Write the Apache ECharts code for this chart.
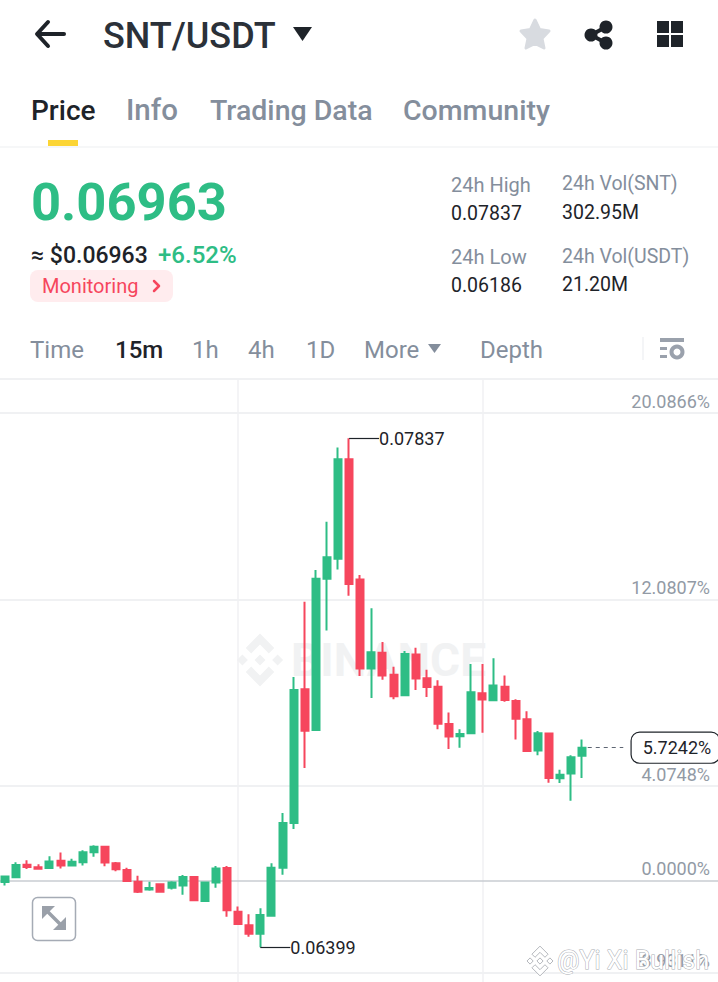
<!DOCTYPE html>
<html>
<head>
<meta charset="utf-8">
<style>html,body{margin:0;padding:0;background:#fff;overflow:hidden}#c{width:718px;height:982px}</style>
<script src="https://cdn.jsdelivr.net/npm/echarts@6/dist/echarts.min.js"></script>
</head>
<body>
<div id="c"></div>
<script>
// Percent change values, one entry per 15m candle.
const opens = [-0.04,0.16,0.70,0.59,0.56,0.87,0.66,0.80,1.23,1.47,0.76,0.47,-0.03,-0.37,-0.14,-0.29,-0.19,0.17,-0.86,-0.07,0.56,-1.32,-1.90,-2.26,-1.49,0.57,2.49,8.23,6.48,12.98,13.84,18.11,12.94,9.12,9.80,8.85,7.97,9.73,8.70,8.34,6.74,6.21,6.34,8.06,7.76,8.34,7.73,6.94,5.60,6.33,4.41,4.61,5.38];
const closes = [0.19,0.69,0.60,0.53,0.84,0.67,0.83,1.23,1.47,0.79,0.50,0,-0.46,-0.30,-0.46,-0.06,0.17,-0.83,-0.07,0.54,-1.26,-1.85,-2.26,-1.46,0.57,2.49,8.20,6.45,12.98,13.90,18.11,12.75,9.12,9.82,8.82,7.93,9.75,8.69,8.33,6.75,6.20,6.31,8.10,7.79,8.39,7.77,6.97,5.58,6.34,4.42,4.56,5.31,5.72];
const lows = [-0.19,0.16,0.52,0.50,0.53,0.54,0.64,0.66,1.04,0.63,0.42,-0.01,-0.52,-0.42,-0.46,-0.36,-0.59,-0.84,-0.86,-0.29,-1.53,-1.87,-2.39,-2.85,-1.53,0.27,2.23,4.85,6.45,10.75,13.37,12.25,8.80,7.86,8.64,7.80,7.96,8.20,7.90,6.51,5.67,5.72,6.34,6.37,7.76,7.70,6.07,5.58,5.40,4.22,4.21,3.44,4.42];
const highs = [0.19,0.80,0.89,0.72,1.06,1.22,0.96,1.32,1.53,1.47,0.82,0.57,0.23,-0.03,-0.10,-0.01,0.26,0.19,-0.04,0.64,0.64,-1.09,-1.43,-1.17,0.76,2.92,8.76,11.99,13.35,15.43,18.61,19.01,13.14,11.71,10.26,9.20,9.88,10.01,9.07,8.62,7.23,6.51,9.32,9.32,9.56,8.82,7.80,7.29,6.44,6.33,4.78,5.40,6.08];
const slotCount = 65;
const categories = Array.from({length: slotCount}, (_, i) => 'T' + i);
const tickValues = [-3.9311, 0, 4.0748, 12.0807, 20.0866];
const gridTicks = [-3.9311, 4.0748, 12.0807, 20.0866];
const lastPct = 5.7242;
const highPct = 19.01, highIndex = 31, highLabel = '0.07837';
const lowPct = -2.85, lowIndex = 23, lowLabel = '0.06399';
const vLineSlots = [21, 43];

const FONT = 'Roboto, "Noto Sans", sans-serif';
const DARK = '#1E2329', GREY = '#848E9C', GREEN = '#2EBD85', RED = '#F6465D';
const candles = opens.map((o, i) => [o, closes[i], lows[i], highs[i]]);

function text(x, y, s, size, fill, weight, extra) {
  return Object.assign({type:'text', x, y, z:20, silent:true,
    style:{text:s, fontSize:size, fontFamily:FONT, fontWeight:weight||400, fill:fill, textVerticalAlign:'middle', verticalAlign:'middle'}}, extra||{});
}
function poly(points, fill, z) { return {type:'polygon', z:z==null?20:z, silent:true, shape:{points}, style:{fill}}; }
function rect(x,y,w,h,fill,r,stroke,lw,z){return {type:'rect', z:z==null?20:z, silent:true, shape:{x,y,width:w,height:h,r:r||0}, style:{fill:fill||'none',stroke:stroke||null,lineWidth:lw||0}};}
function line(pts,stroke,lw,z){return {type:'polyline', z:z==null?20:z, silent:true, shape:{points:pts}, style:{stroke,lineWidth:lw,fill:'none',lineCap:'round',lineJoin:'round'}};}
function logo(cx,cy,s,style,z){
  const d=(x,y,r)=>[[cx+x*s,cy+(y-r)*s],[cx+(x+r)*s,cy+y*s],[cx+x*s,cy+(y+r)*s],[cx+(x-r)*s,cy+y*s]];
  const top=[[0,-24],[13,-11],[8,-6],[0,-14],[-8,-6],[-13,-11]].map(p=>[cx+p[0]*s,cy+p[1]*s]);
  const bot=top.map(p=>[p[0],2*cy-p[1]]);
  return [d(0,0,5),d(-16,0,5),d(16,0,5),top,bot].map(pts=>({type:'polygon',z:z,silent:true,shape:{points:pts},style}));
}

const chrome = [
  line([[48,22],[37,34],[48,46]],DARK,4), line([[38,34],[64,34]],DARK,4),
  text(103,36,'SNT/USDT',36,'#2B3139',500),
  poly([[293,27],[312,27],[302.5,41]],DARK),
  {type:'polygon',z:20,silent:true,shape:{points:[[535,20],[539.5,29.5],[549,31],[542,38.5],[544,48],[535,43.5],[526,48],[528,38.5],[521,31],[530.5,29.5]]},style:{fill:'#D8DBE0',stroke:'#D8DBE0',lineWidth:3,lineJoin:'round'}},
  line([[606,27],[591,35],[606,43]],DARK,4),
  {type:'circle',z:20,silent:true,shape:{cx:606,cy:27,r:6.5},style:{fill:DARK}},
  {type:'circle',z:20,silent:true,shape:{cx:591,cy:35,r:6.5},style:{fill:DARK}},
  {type:'circle',z:20,silent:true,shape:{cx:606,cy:43,r:6.5},style:{fill:DARK}},
  rect(657,21,12,12,DARK), rect(671,21,12,12,DARK), rect(657,35,12,12,DARK), rect(671,35,12,12,DARK),
  text(31,110,'Price',28,DARK,500), text(126,110,'Info',29.5,GREY,500),
  text(210,110,'Trading Data',28.5,GREY,500), text(403,110,'Community',28.5,GREY,500),
  rect(48,140,30,6,'#FCD535'), rect(0,146.5,718,1,'#EEEFF1'),
  text(31,202,'0.06963',52.5,GREEN,700),
  text(31,255,'≈ $0.06963',23,DARK,500), text(158,255,'+6.52%',24,GREEN,500),
  rect(30,270,143,32,'#FFECEE',8),
  text(42,286,'Monitoring',20,RED,400),
  line([[154,281],[159,286],[154,291]],RED,2.5),
  text(451,185,'24h High',20,GREY), text(451,213,'0.07837',19.5,DARK),
  text(562,183,'24h Vol(SNT)',19.5,GREY), text(562,212,'302.95M',19.5,DARK),
  text(451,257,'24h Low',20,GREY), text(451,285,'0.06186',19.5,DARK),
  text(562,256,'24h Vol(USDT)',19.5,GREY), text(562,284,'21.20M',19.5,DARK),
  text(30,350,'Time',24,GREY), text(115,350,'15m',24,DARK,500), text(192,350,'1h',24,GREY),
  text(248,350,'4h',24,GREY), text(306,350,'1D',24,GREY), text(364,350,'More',24,GREY),
  poly([[428,344],[441,344],[434.5,353]],GREY),
  text(480,350,'Depth',24,GREY),
  rect(642.5,337,1,23,'#EAECEF'),
  rect(660,338,24,4,'#9AA1AC'), rect(660,347,7,3,'#9AA1AC'), rect(660,355,7,3,'#9AA1AC'),
  {type:'circle',z:20,silent:true,shape:{cx:677,cy:352,r:5.5},style:{fill:'none',stroke:'#9AA1AC',lineWidth:4}},
  rect(0,378,718,2,'#F0F1F3'),
  rect(32.5,897.5,43,43,'#fff',5,'#A5ABB5',1.5),
  line([[46,910],[62,926]],'#9AA0A9',3.5),
  poly([[42,906],[55,906],[42,919]],'#9AA0A9'), poly([[66,930],[53,930],[66,917]],'#9AA0A9'),
  text(291,660,'BINANCE',46,'#F1F2F3',700,{z:0}),
  ...logo(260,660,1.1,{fill:'#F1F2F3'},0),
  ...logo(540,961,0.62,{fill:'#fff',stroke:'#B5B8BD',lineWidth:1},25),
  {type:'text',x:557,y:960,z:25,silent:true,style:{text:'@Yi Xi Bullish',fontSize:25,fontFamily:FONT,fill:'#fff',stroke:'#A8ACB2',lineWidth:1,verticalAlign:'middle'}}
];

const chart = echarts.init(document.getElementById('c'), null, {renderer:'svg', width:718, height:982});
chart.setOption({
  animation:false,
  backgroundColor:'#fff',
  grid:{left:-0.55, top:380, width:721.5, height:602, containLabel:false, outerBoundsMode:'none'},
  xAxis:[
    {type:'category', data:categories, boundaryGap:true, axisLine:{show:false}, axisTick:{show:false}, axisLabel:{show:false}, splitLine:{show:false}},
    {type:'value', min:-0.5, max:slotCount-0.5, show:false, splitLine:{show:false}}
  ],
  yAxis:{type:'value', position:'right', min:-4.337, max:21.511, scale:true,
    axisLine:{show:false},
    axisTick:{show:false, customValues:gridTicks},
    splitLine:{show:true, lineStyle:{color:'#F0F1F3', width:2}},
    axisLabel:{inside:true, margin:11, color:'#929AA5', fontSize:18, fontFamily:FONT, verticalAlign:'bottom', padding:[0,0,3,0],
      customValues:tickValues, formatter:v=>v.toFixed(4)+'%'}
  },
  series:[
    {type:'line', name:'back', xAxisIndex:1, data:[], z:1, silent:true,
      markLine:{silent:true, symbol:'none', label:{show:false}, animation:false, z:1,
        data:[
          ...vLineSlots.map(v=>({xAxis:v, lineStyle:{color:'#F0F1F3', width:1.5, type:'solid'}})),
          {yAxis:0, lineStyle:{color:'#C9CCD2', width:1.5, type:'solid'}}
        ]}},
    {type:'candlestick', name:'SNT/USDT', data:candles, barWidth:7.5, z:3, silent:true,
      itemStyle:{color:GREEN, color0:RED, borderColor:GREEN, borderColor0:RED, borderWidth:2}},
    {type:'line', name:'notes', xAxisIndex:1, data:[], z:5, silent:true,
      markLine:{silent:true, symbol:'none', animation:false,
        data:[
          [{coord:[highIndex,highPct], lineStyle:{color:DARK,width:1.2,type:'solid'}},
           {coord:[highIndex+2.7,highPct], label:{show:true, position:'end', distance:0, formatter:highLabel, color:DARK, fontSize:18, fontFamily:FONT}}],
          [{coord:[lowIndex,lowPct], lineStyle:{color:DARK,width:1.2,type:'solid'}},
           {coord:[lowIndex+2.7,lowPct], label:{show:true, position:'end', distance:0, formatter:lowLabel, color:DARK, fontSize:18, fontFamily:FONT}}],
          [{coord:[52.5,lastPct], lineStyle:{color:'#5E6673',width:1.2,type:[4,4]}, label:{show:false}},
           {coord:[55.7,lastPct], label:{show:false}}]
        ]},
      markPoint:{silent:true, animation:false, symbol:'circle', symbolSize:1, itemStyle:{color:'rgba(0,0,0,0)'},
        data:[{coord:[60.4,lastPct], label:{show:true, position:'inside', formatter:lastPct.toFixed(4)+'%', color:DARK, fontSize:18, fontFamily:FONT,
          backgroundColor:'#fff', borderColor:DARK, borderWidth:1.2, borderRadius:8, padding:[6,8,6,11]}}]}}
  ],
  graphic:{elements:chrome}
});
</script>
</body>
</html>
